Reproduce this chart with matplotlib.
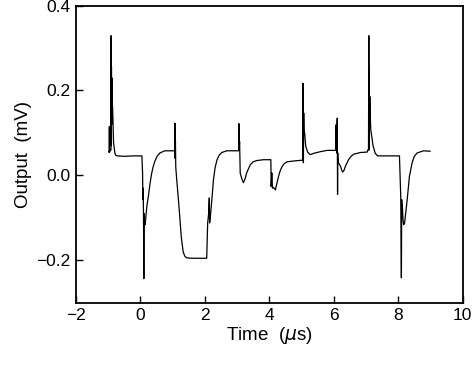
import numpy as np
import matplotlib
matplotlib.use('Agg')
import matplotlib.pyplot as plt

# trace (time in microseconds, output in mV)
time_us = [-0.98, -0.965, -0.96, -0.955, -0.93, -0.91, -0.905, -0.90, -0.895, -0.89,
           -0.885, -0.88, -0.86, -0.83, -0.79, -0.76, -0.70, -0.50, -0.20, 0.05,
           0.07, 0.08, 0.09, 0.10, 0.11, 0.12, 0.13, 0.15, 0.17, 0.20,
           0.25, 0.30, 0.35, 0.40, 0.45, 0.52, 0.61, 0.76, 1.06,
           1.07, 1.075, 1.08, 1.09, 1.10, 1.13, 1.20, 1.27, 1.33, 1.38, 1.44, 1.60, 2.06,
           2.09, 2.12, 2.14, 2.15, 2.17, 2.22, 2.27, 2.32, 2.38, 2.45, 2.53, 2.68, 3.04,
           3.05, 3.06, 3.07, 3.08, 3.10, 3.15, 3.20, 3.25, 3.30, 3.41, 3.50, 3.61, 3.82, 4.05,
           4.06, 4.08, 4.10, 4.13, 4.19, 4.24, 4.29, 4.34, 4.40, 4.47, 4.55, 4.76, 5.03,
           5.04, 5.05, 5.06, 5.07, 5.08, 5.10, 5.13, 5.19, 5.27, 5.38, 5.59, 5.80, 6.06,
           6.07, 6.09, 6.11, 6.12, 6.125, 6.13, 6.15, 6.21, 6.25, 6.28, 6.32, 6.36, 6.46, 6.54, 6.62, 6.83, 7.04,
           7.06, 7.08, 7.09, 7.10, 7.105, 7.11, 7.12, 7.13, 7.15, 7.22, 7.29, 7.36, 7.50, 8.04,
           8.06, 8.08, 8.10, 8.11, 8.12, 8.13, 8.15, 8.17, 8.20, 8.24, 8.28, 8.35, 8.43, 8.50, 8.59, 8.79, 8.99]
output_mv = [0.055, 0.055, 0.115, 0.055, 0.06, 0.06, 0.329, 0.07, 0.256, 0.12,
             0.23, 0.17, 0.162, 0.077, 0.053, 0.047, 0.046, 0.045, 0.046, 0.046,
             0.006, -0.057, -0.03, -0.104, -0.243, -0.09, -0.11, -0.116, -0.10, -0.075,
             -0.049, -0.02, 0.004, 0.021, 0.033, 0.045, 0.053, 0.058, 0.058,
             0.058, 0.123, 0.04, 0.08, 0.02, -0.01, -0.073, -0.144, -0.180, -0.190, -0.194, -0.195, -0.195,
             -0.112, -0.09, -0.053, -0.112, -0.10, -0.057, -0.010, 0.018, 0.037, 0.048, 0.054, 0.058, 0.058,
             0.058, 0.122, 0.06, 0.08, 0.005, -0.008, -0.017, -0.008, 0.006, 0.025, 0.032, 0.035, 0.037, 0.037,
             -0.026, 0.006, -0.03, -0.028, -0.034, -0.018, -0.002, 0.011, 0.021, 0.028, 0.032, 0.034, 0.036,
             0.036, 0.217, 0.03, 0.147, 0.107, 0.10, 0.07, 0.055, 0.049, 0.052, 0.056, 0.059, 0.059,
             0.119, 0.053, 0.135, -0.045, 0.053, 0.04, 0.029, 0.022, 0.012, 0.008, 0.012, 0.021, 0.037, 0.045, 0.050, 0.054, 0.055,
             0.06, 0.06, 0.329, 0.06, 0.253, 0.12, 0.186, 0.15, 0.108, 0.07, 0.052, 0.046, 0.046, 0.046,
             -0.002, -0.049, -0.241, -0.057, -0.09, -0.07, -0.104, -0.116, -0.112, -0.085, -0.057, -0.002, 0.029, 0.045, 0.053, 0.058, 0.057]

x_ticks = [-2, 0, 2, 4, 6, 8, 10]
y_ticks = [-0.2, 0.0, 0.2, 0.4]

plt.rcParams['font.family'] = ['Liberation Sans', 'DejaVu Sans']
plt.rcParams['mathtext.fontset'] = 'dejavusans'

fig = plt.figure(figsize=(4.74, 3.68), dpi=100)
ax = fig.add_axes([0.160, 0.177, 0.816, 0.808])

ax.plot(time_us, output_mv, color='k', lw=0.9)

ax.set_xlim(-2, 10)
ax.set_ylim(-0.3, 0.4)
ax.set_xticks(x_ticks)
ax.set_xticklabels(['\u22122', '0', '2', '4', '6', '8', '10'])
ax.set_yticks(y_ticks)
ax.set_yticklabels(['\u22120.2', '0.0', '0.2', '0.4'])
ax.tick_params(direction='in', length=5, width=1, labelsize=12.5, pad=4)
for s in ax.spines.values():
    s.set_linewidth(1.3)

ax.set_xlabel(r'Time  ($\mu$s)', fontsize=13.5, labelpad=1)
ax.set_ylabel('Output  (mV)', fontsize=13.5, labelpad=3)

fig.savefig('out.png', dpi=100)
